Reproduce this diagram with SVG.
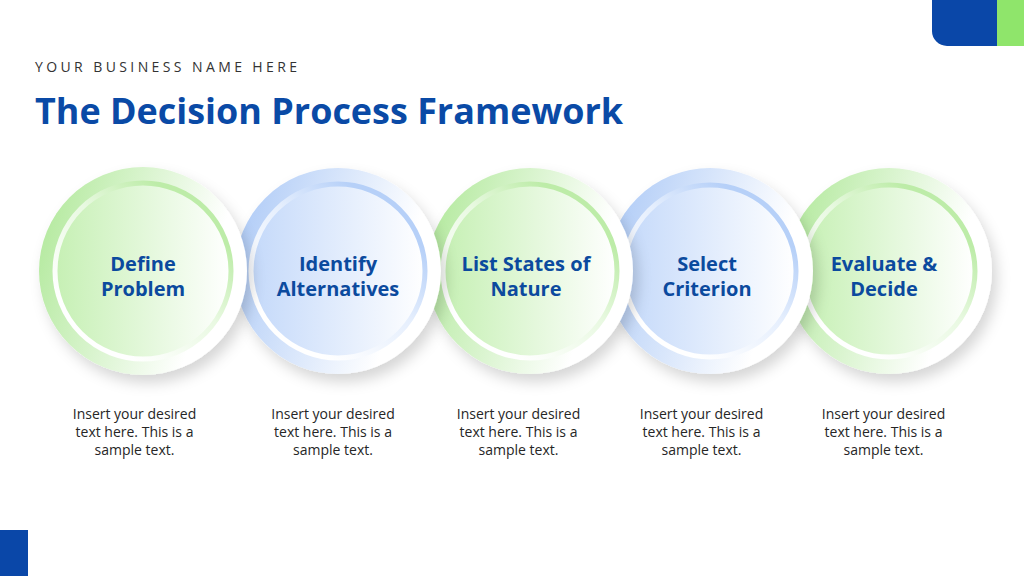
<svg xmlns="http://www.w3.org/2000/svg" width="1024" height="576" viewBox="0 0 1024 576">
  <defs>
    <linearGradient id="gOuterG" x1="0" y1="0.35" x2="1" y2="0.65">
      <stop offset="0" stop-color="#b6eaa1"/>
      <stop offset="0.8" stop-color="#ffffff"/>
    </linearGradient>
    <linearGradient id="gInnerG" x1="0" y1="0.5" x2="1" y2="0.5">
      <stop offset="0" stop-color="#c6f0b4"/>
      <stop offset="1" stop-color="#ffffff"/>
    </linearGradient>
    <linearGradient id="gRimG" x1="0.15" y1="0.9" x2="0.85" y2="0.1">
      <stop offset="0.1" stop-color="#ffffff"/>
      <stop offset="0.55" stop-color="#e9f9e2"/>
      <stop offset="0.9" stop-color="#bdeca8"/>
    </linearGradient>
    <linearGradient id="gOuterB" x1="0" y1="0.35" x2="1" y2="0.65">
      <stop offset="0" stop-color="#b2cdf7"/>
      <stop offset="0.8" stop-color="#ffffff"/>
    </linearGradient>
    <linearGradient id="gInnerB" x1="0" y1="0.5" x2="1" y2="0.5">
      <stop offset="0" stop-color="#c4d9fa"/>
      <stop offset="1" stop-color="#ffffff"/>
    </linearGradient>
    <linearGradient id="gRimB" x1="0.15" y1="0.9" x2="0.85" y2="0.1">
      <stop offset="0.1" stop-color="#ffffff"/>
      <stop offset="0.55" stop-color="#e6effd"/>
      <stop offset="0.9" stop-color="#b6d0f8"/>
    </linearGradient>
    <filter id="shadow" x="-20%" y="-20%" width="150%" height="150%">
      <feDropShadow dx="5" dy="8" stdDeviation="7" flood-color="#000000" flood-opacity="0.16"/>
    </filter>
    <style>
      .outer { filter: url(#shadow); }
      .green .outer { fill: url(#gOuterG); }
      .green .inner { fill: url(#gInnerG); stroke: url(#gRimG); stroke-width: 5; }
      .blue .outer { fill: url(#gOuterB); }
      .blue .inner { fill: url(#gInnerB); stroke: url(#gRimB); stroke-width: 5; }
      .label { font-family: "Open Sans", "Noto Sans", sans-serif; font-weight: 700; font-size: 20px; fill: #0b4a9e; text-anchor: middle; }
      .desc { font-family: "Open Sans", "Noto Sans", sans-serif; font-size: 14px; fill: #262626; text-anchor: middle; }
    </style>
  </defs>

  <rect x="0" y="0" width="1024" height="576" fill="#ffffff"/>

  <!-- corner decorations -->
  <path d="M932 0 H997 V46 H947 A15 15 0 0 1 932 31 Z" fill="#0a47a8"/>
  <rect x="997" y="0" width="27" height="46" fill="#8fe56b"/>
  <rect x="0" y="530" width="28" height="46" fill="#0a47a8"/>

  <!-- header -->
  <text x="35" y="72" font-family="Open Sans, Noto Sans, sans-serif" font-size="14" letter-spacing="3.4" fill="#333333">YOUR BUSINESS NAME HERE</text>
  <text x="35" y="124" font-family="Open Sans, Noto Sans, sans-serif" font-size="35" font-weight="700" fill="#0a4aa6" textLength="588" lengthAdjust="spacingAndGlyphs">The Decision Process Framework</text>

  <!-- nodes (drawn right to left so left ones overlap) -->
  <g id="node-5" class="green">
    <circle class="outer" cx="889" cy="271" r="103"/>
    <circle class="inner" cx="889" cy="271" r="86"/>
    <text class="label" x="884" y="271">Evaluate &amp;</text>
    <text class="label" x="884" y="296">Decide</text>
  </g>
  <g id="node-4" class="blue">
    <circle class="outer" cx="710" cy="271" r="103"/>
    <circle class="inner" cx="710" cy="271" r="86"/>
    <text class="label" x="707" y="271">Select</text>
    <text class="label" x="707" y="296">Criterion</text>
  </g>
  <g id="node-3" class="green">
    <circle class="outer" cx="530" cy="271" r="103"/>
    <circle class="inner" cx="530" cy="271" r="87"/>
    <text class="label" x="526" y="271">List States of</text>
    <text class="label" x="526" y="296">Nature</text>
  </g>
  <g id="node-2" class="blue">
    <circle class="outer" cx="338" cy="271" r="103"/>
    <circle class="inner" cx="338" cy="271" r="87"/>
    <text class="label" x="338" y="271">Identify</text>
    <text class="label" x="338" y="296">Alternatives</text>
  </g>
  <g id="node-1" class="green">
    <circle class="outer" cx="143" cy="271" r="104"/>
    <circle class="inner" cx="143" cy="271" r="88"/>
    <text class="label" x="143" y="271">Define</text>
    <text class="label" x="143" y="296">Problem</text>
  </g>

  <!-- descriptions -->
  <g id="desc-1">
    <text class="desc" x="134.5" y="419">Insert your desired</text>
    <text class="desc" x="134.5" y="437">text here. This is a</text>
    <text class="desc" x="134.5" y="455">sample text.</text>
  </g>
  <g id="desc-2">
    <text class="desc" x="333" y="419">Insert your desired</text>
    <text class="desc" x="333" y="437">text here. This is a</text>
    <text class="desc" x="333" y="455">sample text.</text>
  </g>
  <g id="desc-3">
    <text class="desc" x="518.5" y="419">Insert your desired</text>
    <text class="desc" x="518.5" y="437">text here. This is a</text>
    <text class="desc" x="518.5" y="455">sample text.</text>
  </g>
  <g id="desc-4">
    <text class="desc" x="701.5" y="419">Insert your desired</text>
    <text class="desc" x="701.5" y="437">text here. This is a</text>
    <text class="desc" x="701.5" y="455">sample text.</text>
  </g>
  <g id="desc-5">
    <text class="desc" x="883.5" y="419">Insert your desired</text>
    <text class="desc" x="883.5" y="437">text here. This is a</text>
    <text class="desc" x="883.5" y="455">sample text.</text>
  </g>
</svg>
